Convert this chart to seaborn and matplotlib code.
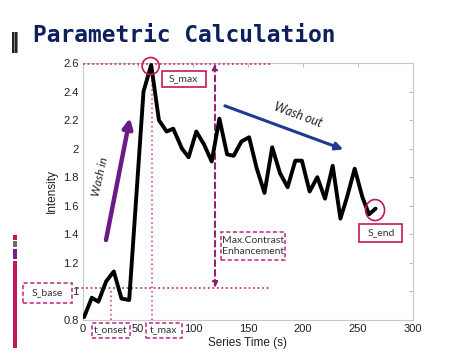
import matplotlib
matplotlib.use("Agg")
import matplotlib.pyplot as plt
from matplotlib.patches import Rectangle, Ellipse
import seaborn as sns
import pandas as pd

# curve
times = [1, 8, 14, 21, 28, 35, 42, 55, 62, 69, 76, 82, 90, 96, 103, 110, 117,
         124, 131, 137, 144, 151, 158, 165, 172, 179, 186, 193, 199, 206, 213,
         220, 227, 234, 240, 247, 254, 260, 266]
intensity = [0.82, 0.956, 0.928, 1.07, 1.14, 0.95, 0.94, 2.40, 2.586, 2.20,
             2.12, 2.14, 2.00, 1.94, 2.12, 2.03, 1.91, 2.21, 1.96, 1.95, 2.05,
             2.08, 1.86, 1.69, 2.01, 1.83, 1.73, 1.916, 1.916, 1.70, 1.80,
             1.65, 1.88, 1.51, 1.66, 1.86, 1.66, 1.54, 1.58]

xticks = [0, 50, 100, 150, 200, 250, 300]
yticks = [0.8, 1.0, 1.2, 1.4, 1.6, 1.8, 2.0, 2.2, 2.4, 2.6]
ytick_labels = ["0.8", "1", "1.2", "1.4", "1.6", "1.8", "2", "2.2", "2.4", "2.6"]

# key parameters marked on the chart
s_base = 1.026
s_max = 2.595
t_onset = 25
t_max = 63
t_mce = 120

df = pd.DataFrame({"time": times, "intensity": intensity})

sns.set_style("white")
plt.rcParams["font.family"] = ["Liberation Sans", "DejaVu Sans"]

W, H = 474, 355
fig = plt.figure(figsize=(W / 100, H / 100), dpi=100)
ax = fig.add_axes([83 / W, 1 - 320 / H, 330 / W, 257 / H])

sns.lineplot(data=df, x="time", y="intensity", ax=ax, color="black",
             linewidth=2.8, zorder=5)

ax.set_xlim(0, 300)
ax.set_ylim(0.8, 2.6)
ax.set_xticks(xticks)
ax.set_xticklabels([str(t) for t in xticks])
ax.set_yticks(yticks)
ax.set_yticklabels(ytick_labels)
ax.tick_params(direction="in", length=3, width=0.6, color="#b0b0b0",
               labelsize=8, labelcolor="#222222", pad=3, right=True, top=True)
for sp in ax.spines.values():
    sp.set_color("#c8c8c8")
    sp.set_linewidth(0.8)
ax.set_xlabel("Series Time (s)", fontsize=8.5, color="#222222", labelpad=2)
ax.set_ylabel("Intensity", fontsize=8.5, color="#222222", labelpad=4)

mag = "#c4378f"
crim = "#c2185b"
dark_mag = "#8e1f6e"

# dotted guide lines
ax.plot([0, 172], [s_max, s_max], ls=(0, (1, 1.5)), color=mag, lw=1.3,
        clip_on=False, zorder=3)
ax.plot([-5.5, 170], [s_base, s_base], ls=(0, (1, 1.5)), color=mag, lw=1.3,
        clip_on=False, zorder=3)
ax.plot([t_onset, t_onset], [0.8, s_base], ls=(0, (1, 2)), color=mag, lw=1.1,
        zorder=3)
ax.plot([t_max, t_max], [0.8, s_max], ls=(0, (1, 2)), color=mag, lw=1.1,
        zorder=3)

# max contrast enhancement arrow
ax.annotate("", xy=(t_mce, s_max), xytext=(t_mce, s_base),
            arrowprops=dict(arrowstyle="<|-|>", color=dark_mag, lw=1.4,
                            ls=(0, (3, 2)), mutation_scale=8,
                            shrinkA=0, shrinkB=0))

# circles at peak and end
ax.add_patch(Ellipse((61.5, 2.579), 15.5, 0.119, fill=False, ec=crim, lw=1.2,
                     zorder=6, clip_on=False))
ax.add_patch(Ellipse((265.5, 1.57), 17.3, 0.147, fill=False, ec=crim, lw=1.2,
                     zorder=6, clip_on=False))


def label_box(x0, x1, y0, y1, text, dashed=False):
    ls = (0, (2.5, 1.5)) if dashed else "-"
    ec = mag if dashed else crim
    ax.add_patch(Rectangle((x0, y0), x1 - x0, y1 - y0, fill=False, ec=ec,
                           lw=1.2, ls=ls, clip_on=False, zorder=6))
    ax.text((x0 + x1) / 2, (y0 + y1) / 2, text, ha="center", va="center",
            fontsize=7.5, color="#333333", family="Lato", clip_on=False)


label_box(71.5, 111.5, 2.435, 2.546, "S_max")
label_box(251.2, 290.3, 1.348, 1.472, "S_end")
label_box(125.2, 183.6, 1.22, 1.416, "Max.Contrast\nEnhancement", dashed=True)
label_box(-54.3, -10.3, 0.921, 1.057, "S_base", dashed=True)
label_box(7.9, 42.7, 0.672, 0.777, "t_onset", dashed=True)
label_box(57.3, 89.7, 0.672, 0.777, "t_max", dashed=True)

# wash in / wash out arrows
ax.annotate("", xy=(42.7, 2.215), xytext=(20.9, 1.36),
            arrowprops=dict(arrowstyle="-|>", color="#6a1b8a", lw=3.2,
                            mutation_scale=14, shrinkA=0, shrinkB=0))
ax.text(15.5, 1.80, "Wash in", rotation=77, ha="center", va="center",
        fontsize=8.5, color="#222222", family="Lato", style="italic")
ax.annotate("", xy=(236.6, 1.995), xytext=(129, 2.30),
            arrowprops=dict(arrowstyle="-|>", color="#1f3a8f", lw=2.2,
                            mutation_scale=11, shrinkA=0, shrinkB=0))
ax.text(195.5, 2.236, "Wash out", rotation=-20, ha="center", va="center",
        fontsize=9, color="#222222", family="Lato", style="italic")

# slide title and side decorations
fig.text(33 / W, 1 - 35 / H, "Parametric Calculation", ha="left", va="center",
         fontsize=16.5, fontweight="bold", color="#0d1f5c",
         family="DejaVu Sans Mono")


def px_rect(x0, y0, x1, y1, color):
    fig.add_artist(Rectangle((x0 / W, 1 - y1 / H), (x1 - x0) / W, (y1 - y0) / H,
                             transform=fig.transFigure, color=color, lw=0))


for i, c in enumerate(["#222222", "#888888", "#222222", "#888888"]):
    px_rect(12 + i * 1.6, 32, 13.6 + i * 1.6, 53, c)
px_rect(13, 235, 17, 239.5, crim)
px_rect(13, 240.5, 17, 247, "#6b6b6b")
px_rect(13, 249, 17, 258.5, "#7a1a8c")
px_rect(13, 260.5, 17, 348, crim)

fig.savefig("out.png", dpi=100)
